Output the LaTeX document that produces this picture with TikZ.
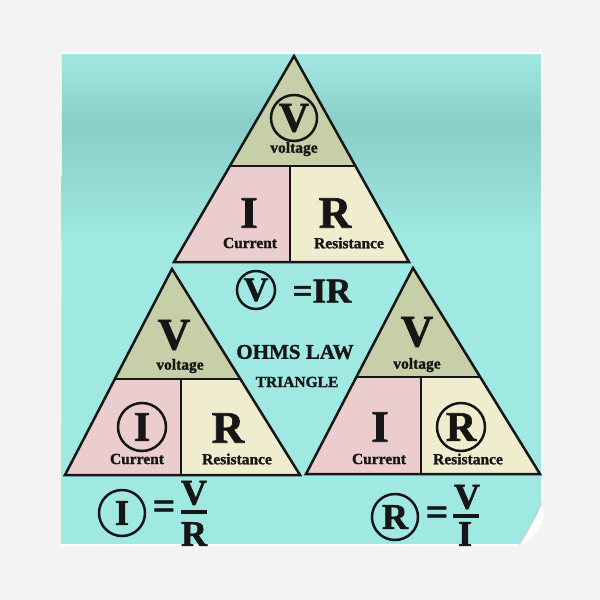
\documentclass[tikz,border=0pt]{standalone}
\usepackage{fontspec}
\setmainfont{Liberation Serif}[BoldFeatures={FakeBold=1.4}]
\usepackage{xcolor}
\usepackage{tikz}
\usetikzlibrary{calc}
\definecolor{paperbg}{RGB}{243,243,243}
\definecolor{tealtop}{RGB}{162,231,225}
\definecolor{tealband}{RGB}{137,206,200}
\definecolor{tealbot}{RGB}{160,232,226}
\definecolor{voltfill}{RGB}{198,207,168}
\definecolor{curfill}{RGB}{235,205,205}
\definecolor{resfill}{RGB}{239,237,205}
\definecolor{inkcol}{RGB}{22,22,22}

\begin{document}
\begin{tikzpicture}[x=1pt, y=-1pt,
    edge/.style={draw=inkcol, line width=2.5pt, line join=miter},
    letter/.style={text=inkcol, inner sep=0pt, font=\fontsize{45}{45}\selectfont\bfseries},
    circled/.style={letter, circle, draw=inkcol, line width=2.5pt, minimum size=48pt, font=\fontsize{42}{42}\selectfont\bfseries},
    caption/.style={text=inkcol, inner sep=0pt, font=\fontsize{15.5}{16}\selectfont\bfseries},
    eqtext/.style={text=inkcol, inner sep=0pt, font=\fontsize{36}{36}\selectfont\bfseries},
    eqcircle/.style={eqtext, circle, draw=inkcol, line width=2.5pt, minimum size=46pt},
    fracbar/.style={draw=inkcol, line width=3.5pt}
]
\useasboundingbox (0,0) rectangle (600,600);
\fill[paperbg] (0,0) rectangle (600,600);

% poster
\begin{scope}
\clip (62,53) -- (542,53) -- (542,503) .. controls (534,520) and (527,533) .. (519,545) -- (61,545) -- cycle;
\shade[top color=tealtop, bottom color=tealband] (0,53) rectangle (600,125);
\shade[top color=tealband, bottom color=tealbot] (0,125) rectangle (600,240);
\fill[tealbot] (0,240) rectangle (600,546);
\end{scope}
\draw[white, line width=1.5pt] (62,53) -- (542,53) -- (542,503) (519,545) -- (61,545) -- cycle;
\fill[white] (542,503) .. controls (534,520) and (527,533) .. (519,545) .. controls (530,542) and (539,532) .. (544,516) -- cycle;
\draw[gray!45, line width=0.6pt] (542,503) .. controls (534,520) and (527,533) .. (519,545);

% top triangle
\coordinate (tA) at (294,56);
\coordinate (tL) at (174,262);
\coordinate (tR) at (409,262);
\coordinate (tdl) at ($(tA)!0.534!(tL)$);
\coordinate (tdr) at ($(tA)!0.534!(tR)$);
\coordinate (tv) at ($(tL)!0.494!(tR)$);
\fill[voltfill] (tA) -- (tdl) -- (tdr) -- cycle;
\fill[curfill] (tdl) -- (tdl -| tv) -- (tv) -- (tL) -- cycle;
\fill[resfill] (tdl -| tv) -- (tdr) -- (tR) -- (tv) -- cycle;
\draw[edge] (tA) -- (tL) -- (tR) -- cycle;
\draw[edge] (tdl) -- (tdr) (tdl -| tv) -- (tv);

\node[circled, minimum size=46pt] (tV) at (294,118) {V};
\node[caption] (tvolt) at (294,149) {voltage};
\node[letter] (tI) at (249,213) {I};
\node[caption] (tcur) at (250,243) {Current};
\node[letter] (tRs) at (335,213) {R};
\node[caption] (tres) at (349,243) {Resistance};

% V = IR
\node[eqcircle, minimum size=38pt, font=\fontsize{34}{34}\selectfont\bfseries] (eqV) at (256,290) {V};
\node[eqtext, font=\fontsize{35}{35}\selectfont\bfseries] (eqIR) at (322,291) {=IR};

% bottom left triangle
\coordinate (lA) at (172,269);
\coordinate (lL) at (65,475);
\coordinate (lR) at (300,475);
\coordinate (ldl) at ($(lA)!0.534!(lL)$);
\coordinate (ldr) at ($(lA)!0.534!(lR)$);
\coordinate (lv) at ($(lL)!0.494!(lR)$);
\fill[voltfill] (lA) -- (ldl) -- (ldr) -- cycle;
\fill[curfill] (ldl) -- (ldl -| lv) -- (lv) -- (lL) -- cycle;
\fill[resfill] (ldl -| lv) -- (ldr) -- (lR) -- (lv) -- cycle;
\draw[edge] (lA) -- (lL) -- (lR) -- cycle;
\draw[edge] (ldl) -- (ldr) (ldl -| lv) -- (lv);

\node[letter] (lV) at (174,335) {V};
\node[caption] (lvolt) at (180,366) {voltage};
\node[circled] (lI) at (142,427) {I};
\node[caption] (lcur) at (137,459) {Current};
\node[letter] (lRs) at (228,428) {R};
\node[caption] (lres) at (237,459) {Resistance};

\node[text=inkcol, inner sep=0pt, font=\fontsize{21}{21}\selectfont\bfseries] (ohms) at (295,352) {OHMS LAW};
\node[caption] (tri) at (297,382) {TRIANGLE};

% bottom right triangle
\coordinate (rA) at (413,268);
\coordinate (rL) at (306,474);
\coordinate (rR) at (540,474);
\coordinate (rdl) at ($(rA)!0.529!(rL)$);
\coordinate (rdr) at ($(rA)!0.529!(rR)$);
\coordinate (rv) at ($(rL)!0.491!(rR)$);
\fill[voltfill] (rA) -- (rdl) -- (rdr) -- cycle;
\fill[curfill] (rdl) -- (rdl -| rv) -- (rv) -- (rL) -- cycle;
\fill[resfill] (rdl -| rv) -- (rdr) -- (rR) -- (rv) -- cycle;
\draw[edge] (rA) -- (rL) -- (rR) -- cycle;
\draw[edge] (rdl) -- (rdr) (rdl -| rv) -- (rv);

\node[letter] (rV) at (417,332) {V};
\node[caption] (rvolt) at (417,365) {voltage};
\node[letter] (rI) at (380,427) {I};
\node[caption] (rcur) at (379,459) {Current};
\node[circled] (rRs) at (461,427) {R};
\node[caption] (rres) at (468,459) {Resistance};

% I = V/R
\node[eqcircle] (lfI) at (122,513) {I};
\node[eqtext, font=\fontsize{40}{40}\selectfont\bfseries] (lfeq) at (164,510) {=};
\node[eqtext] (lfV) at (194,493) {V};
\node[eqtext] (lfR) at (194,534) {R};
\draw[fracbar] (181,512) -- (207,512);

% R = V/I
\node[eqcircle] (rfR) at (395,517) {R};
\node[eqtext, font=\fontsize{40}{40}\selectfont\bfseries] (rfeq) at (437,516) {=};
\node[eqtext] (rfV) at (467,497) {V};
\node[eqtext] (rfI) at (465,534) {I};
\draw[fracbar] (453,516) -- (479,516);
\end{tikzpicture}
\end{document}
